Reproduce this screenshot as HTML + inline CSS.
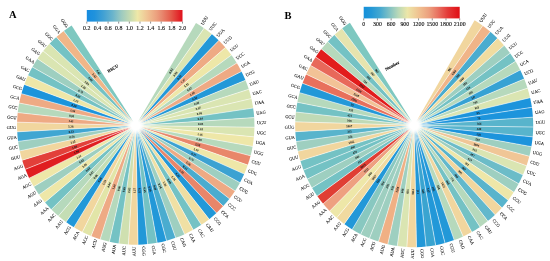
<!DOCTYPE html>
<html><head><meta charset="utf-8"><style>
html,body{margin:0;padding:0;background:#fff;width:550px;height:261px;overflow:hidden}
svg{display:block;will-change:transform}
</style></head><body>
<svg width="550" height="261" viewBox="0 0 550 261">
<defs><linearGradient id="cba" x1="0" x2="1" y1="0" y2="0">
<stop offset="0" stop-color="#168ce0"/>
<stop offset="0.08" stop-color="#2092dc"/>
<stop offset="0.17" stop-color="#40a0d4"/>
<stop offset="0.27" stop-color="#6ab4cc"/>
<stop offset="0.36" stop-color="#9ccac0"/>
<stop offset="0.46" stop-color="#c8dcb0"/>
<stop offset="0.53" stop-color="#eee8a8"/>
<stop offset="0.63" stop-color="#f0c494"/>
<stop offset="0.73" stop-color="#eca07e"/>
<stop offset="0.78" stop-color="#e88a70"/>
<stop offset="0.88" stop-color="#e45a4a"/>
<stop offset="1" stop-color="#e0101c"/>
</linearGradient>
<linearGradient id="cbb" x1="0" x2="1" y1="0" y2="0">
<stop offset="0" stop-color="#1590da"/>
<stop offset="0.08" stop-color="#2498d6"/>
<stop offset="0.17" stop-color="#44a8d0"/>
<stop offset="0.265" stop-color="#7ec0c4"/>
<stop offset="0.36" stop-color="#b8d8b8"/>
<stop offset="0.455" stop-color="#ece6a8"/>
<stop offset="0.58" stop-color="#f0c090"/>
<stop offset="0.68" stop-color="#eca07e"/>
<stop offset="0.775" stop-color="#e87060"/>
<stop offset="0.875" stop-color="#e43a38"/>
<stop offset="1" stop-color="#e00e14"/>
</linearGradient>
<radialGradient id="cg"><stop offset="0" stop-color="#fff"/><stop offset="0.45" stop-color="#fff"/><stop offset="1" stop-color="#fff" stop-opacity="0"/></radialGradient></defs>
<style>
.lb{font-family:"Liberation Serif",serif;font-size:4.4px;fill:#111;stroke:#111;stroke-width:0.08px}
.nm{font-family:"Liberation Serif",serif;font-size:2.95px;font-weight:bold;fill:#1a1a1a;stroke:#1a1a1a;stroke-width:0.04px;text-anchor:middle}
.cbl{font-family:"Liberation Serif",serif;font-size:5.9px;fill:#111;stroke:#111;stroke-width:0.12px}
.pl{font-family:"Liberation Serif",serif;font-size:10.5px;font-weight:bold;fill:#000}
.tt{font-family:"Liberation Serif",serif;font-size:4.4px;font-weight:bold;fill:#000;stroke:#000;stroke-width:0.1px}
</style>
<rect width="550" height="261" fill="#fff"/>
<path d="M135.75 125.60L195.99 22.98A118.7 119.1 0 0 1 204.07 28.20Z" fill="#b6d9bc"/>
<path d="M135.75 125.60L204.07 28.20A118.7 119.1 0 0 1 211.69 34.06Z" fill="#dae5b2"/>
<path d="M135.75 125.60L211.69 34.06A118.7 119.1 0 0 1 218.82 40.52Z" fill="#2298d8"/>
<path d="M135.75 125.60L218.82 40.52A118.7 119.1 0 0 1 225.40 47.54Z" fill="#eeaa84"/>
<path d="M135.75 125.60L225.40 47.54A118.7 119.1 0 0 1 231.40 55.07Z" fill="#eee7a8"/>
<path d="M135.75 125.60L231.40 55.07A118.7 119.1 0 0 1 236.77 63.06Z" fill="#b6d9bc"/>
<path d="M135.75 125.60L236.77 63.06A118.7 119.1 0 0 1 241.48 71.46Z" fill="#eeaa84"/>
<path d="M135.75 125.60L241.48 71.46A118.7 119.1 0 0 1 245.49 80.21Z" fill="#2298d8"/>
<path d="M135.75 125.60L245.49 80.21A118.7 119.1 0 0 1 248.79 89.27Z" fill="#b6d9bc"/>
<path d="M135.75 125.60L248.79 89.27A118.7 119.1 0 0 1 251.35 98.56Z" fill="#dae5b2"/>
<path d="M135.75 125.60L251.35 98.56A118.7 119.1 0 0 1 253.15 108.02Z" fill="#dae5b2"/>
<path d="M135.75 125.60L253.15 108.02A118.7 119.1 0 0 1 254.18 117.60Z" fill="#74c2c4"/>
<path d="M135.75 125.60L254.18 117.60A118.7 119.1 0 0 1 254.44 127.24Z" fill="#b6d9bc"/>
<path d="M135.75 125.60L254.44 127.24A118.7 119.1 0 0 1 253.92 136.86Z" fill="#dae5b2"/>
<path d="M135.75 125.60L253.92 136.86A118.7 119.1 0 0 1 252.62 146.41Z" fill="#eee7a8"/>
<path d="M135.75 125.60L252.62 146.41A118.7 119.1 0 0 1 250.56 155.82Z" fill="#b6d9bc"/>
<path d="M135.75 125.60L250.56 155.82A118.7 119.1 0 0 1 247.75 165.04Z" fill="#e8866a"/>
<path d="M135.75 125.60L247.75 165.04A118.7 119.1 0 0 1 244.21 173.99Z" fill="#eee7a8"/>
<path d="M135.75 125.60L244.21 173.99A118.7 119.1 0 0 1 239.95 182.64Z" fill="#3ca2d2"/>
<path d="M135.75 125.60L239.95 182.64A118.7 119.1 0 0 1 235.02 190.90Z" fill="#9ecfc0"/>
<path d="M135.75 125.60L235.02 190.90A118.7 119.1 0 0 1 229.43 198.74Z" fill="#eeaa84"/>
<path d="M135.75 125.60L229.43 198.74A118.7 119.1 0 0 1 223.23 206.10Z" fill="#4aaccf"/>
<path d="M135.75 125.60L223.23 206.10A118.7 119.1 0 0 1 216.46 212.93Z" fill="#e8866a"/>
<path d="M135.75 125.60L216.46 212.93A118.7 119.1 0 0 1 209.16 219.20Z" fill="#2298d8"/>
<path d="M135.75 125.60L209.16 219.20A118.7 119.1 0 0 1 201.37 224.84Z" fill="#f0dea2"/>
<path d="M135.75 125.60L201.37 224.84A118.7 119.1 0 0 1 193.16 229.84Z" fill="#74c2c4"/>
<path d="M135.75 125.60L193.16 229.84A118.7 119.1 0 0 1 184.57 234.16Z" fill="#f0e0a4"/>
<path d="M135.75 125.60L184.57 234.16A118.7 119.1 0 0 1 175.67 237.76Z" fill="#9ecfc0"/>
<path d="M135.75 125.60L175.67 237.76A118.7 119.1 0 0 1 166.50 240.64Z" fill="#4aaccf"/>
<path d="M135.75 125.60L166.50 240.64A118.7 119.1 0 0 1 157.13 242.75Z" fill="#2298d8"/>
<path d="M135.75 125.60L157.13 242.75A118.7 119.1 0 0 1 147.62 244.10Z" fill="#74c2c4"/>
<path d="M135.75 125.60L147.62 244.10A118.7 119.1 0 0 1 138.03 244.68Z" fill="#2298d8"/>
<path d="M135.75 125.60L138.03 244.68A118.7 119.1 0 0 1 128.43 244.47Z" fill="#f1d69e"/>
<path d="M135.75 125.60L128.43 244.47A118.7 119.1 0 0 1 118.87 243.49Z" fill="#cfe0b0"/>
<path d="M135.75 125.60L118.87 243.49A118.7 119.1 0 0 1 109.43 241.73Z" fill="#74c2c4"/>
<path d="M135.75 125.60L109.43 241.73A118.7 119.1 0 0 1 100.16 239.22Z" fill="#b6d9bc"/>
<path d="M135.75 125.60L100.16 239.22A118.7 119.1 0 0 1 91.12 235.96Z" fill="#eeaa84"/>
<path d="M135.75 125.60L91.12 235.96A118.7 119.1 0 0 1 82.37 231.98Z" fill="#e2e5a8"/>
<path d="M135.75 125.60L82.37 231.98A118.7 119.1 0 0 1 73.97 227.30Z" fill="#f1d69e"/>
<path d="M135.75 125.60L73.97 227.30A118.7 119.1 0 0 1 65.98 221.95Z" fill="#2298d8"/>
<path d="M135.75 125.60L65.98 221.95A118.7 119.1 0 0 1 58.44 215.98Z" fill="#c4deb4"/>
<path d="M135.75 125.60L58.44 215.98A118.7 119.1 0 0 1 51.41 209.41Z" fill="#b6d9bc"/>
<path d="M135.75 125.60L51.41 209.41A118.7 119.1 0 0 1 44.94 202.30Z" fill="#74c2c4"/>
<path d="M135.75 125.60L44.94 202.30A118.7 119.1 0 0 1 39.05 194.68Z" fill="#eee7a8"/>
<path d="M135.75 125.60L39.05 194.68A118.7 119.1 0 0 1 33.80 186.61Z" fill="#9ecfc0"/>
<path d="M135.75 125.60L33.80 186.61A118.7 119.1 0 0 1 29.22 178.14Z" fill="#eee7a8"/>
<path d="M135.75 125.60L29.22 178.14A118.7 119.1 0 0 1 25.34 169.32Z" fill="#e01e20"/>
<path d="M135.75 125.60L25.34 169.32A118.7 119.1 0 0 1 22.18 160.22Z" fill="#e2403a"/>
<path d="M135.75 125.60L22.18 160.22A118.7 119.1 0 0 1 19.76 150.90Z" fill="#f1d69e"/>
<path d="M135.75 125.60L19.76 150.90A118.7 119.1 0 0 1 18.10 141.40Z" fill="#9ecfc0"/>
<path d="M135.75 125.60L18.10 141.40A118.7 119.1 0 0 1 17.21 131.81Z" fill="#40a6d2"/>
<path d="M135.75 125.60L17.21 131.81A118.7 119.1 0 0 1 17.10 122.17Z" fill="#f1d69e"/>
<path d="M135.75 125.60L17.10 122.17A118.7 119.1 0 0 1 17.76 112.56Z" fill="#eeaa84"/>
<path d="M135.75 125.60L17.76 112.56A118.7 119.1 0 0 1 19.20 103.03Z" fill="#b6d9bc"/>
<path d="M135.75 125.60L19.20 103.03A118.7 119.1 0 0 1 21.40 93.65Z" fill="#eeaa84"/>
<path d="M135.75 125.60L21.40 93.65A118.7 119.1 0 0 1 24.35 84.47Z" fill="#1c94dc"/>
<path d="M135.75 125.60L24.35 84.47A118.7 119.1 0 0 1 28.03 75.57Z" fill="#eee7a8"/>
<path d="M135.75 125.60L28.03 75.57A118.7 119.1 0 0 1 32.41 67.00Z" fill="#74c2c4"/>
<path d="M135.75 125.60L32.41 67.00A118.7 119.1 0 0 1 37.47 58.81Z" fill="#9ecfc0"/>
<path d="M135.75 125.60L37.47 58.81A118.7 119.1 0 0 1 43.18 51.05Z" fill="#dae5b2"/>
<path d="M135.75 125.60L43.18 51.05A118.7 119.1 0 0 1 49.49 43.79Z" fill="#dae5b2"/>
<path d="M135.75 125.60L49.49 43.79A118.7 119.1 0 0 1 56.36 37.06Z" fill="#74c2c4"/>
<path d="M135.75 125.60L56.36 37.06A118.7 119.1 0 0 1 63.76 30.91Z" fill="#f0b688"/>
<path d="M135.75 125.60L63.76 30.91A118.7 119.1 0 0 1 71.62 25.38Z" fill="#7ec8c0"/>
<path d="M135.75 125.60L204.35 27.79M135.75 125.60L212.01 33.68M135.75 125.60L219.17 40.17M135.75 125.60L225.78 47.21M135.75 125.60L231.80 54.77M135.75 125.60L237.19 62.80M135.75 125.60L241.92 71.23M135.75 125.60L245.96 80.02M135.75 125.60L249.27 89.11M135.75 125.60L251.84 98.44M135.75 125.60L253.64 107.95M135.75 125.60L254.68 117.57M135.75 125.60L254.94 127.24M135.75 125.60L254.42 136.91M135.75 125.60L253.12 146.50M135.75 125.60L251.05 155.95M135.75 125.60L248.23 165.20M135.75 125.60L244.67 174.20M135.75 125.60L240.39 182.87M135.75 125.60L235.44 191.18M135.75 125.60L229.82 199.05M135.75 125.60L223.60 206.44M135.75 125.60L216.80 213.30M135.75 125.60L209.46 219.59M135.75 125.60L201.65 225.26M135.75 125.60L193.40 230.28M135.75 125.60L184.78 234.61M135.75 125.60L175.83 238.24M135.75 125.60L166.63 241.12M135.75 125.60L157.22 243.24M135.75 125.60L147.67 244.60M135.75 125.60L138.04 245.18M135.75 125.60L128.40 244.97M135.75 125.60L118.80 243.98M135.75 125.60L109.32 242.22M135.75 125.60L100.01 239.70M135.75 125.60L90.93 236.42M135.75 125.60L82.14 232.42M135.75 125.60L73.71 227.73M135.75 125.60L65.69 222.36M135.75 125.60L58.12 216.36M135.75 125.60L51.06 209.76M135.75 125.60L44.55 202.62M135.75 125.60L38.65 194.97M135.75 125.60L33.38 186.86M135.75 125.60L28.77 178.36M135.75 125.60L24.87 169.51M135.75 125.60L21.70 160.37M135.75 125.60L19.27 151.00M135.75 125.60L17.60 141.47M135.75 125.60L16.71 131.83M135.75 125.60L16.60 122.16M135.75 125.60L17.27 112.50M135.75 125.60L18.71 102.93M135.75 125.60L20.92 93.51M135.75 125.60L23.88 84.30M135.75 125.60L27.58 75.36M135.75 125.60L31.98 66.75M135.75 125.60L37.06 58.53M135.75 125.60L42.79 50.74M135.75 125.60L49.12 43.44M135.75 125.60L56.03 36.68M135.75 125.60L63.45 30.51" stroke="#fff" stroke-width="0.55" fill="none"/>
<circle cx="135.75" cy="125.6" r="9" fill="url(#cg)"/>
<text x="201.80" y="24.38" transform="rotate(-57.18 201.80 24.38)" class="lb" dy="1.6">UUU</text>
<text x="209.77" y="30.01" transform="rotate(-52.54 209.77 30.01)" class="lb" dy="1.6">UUC</text>
<text x="217.26" y="36.26" transform="rotate(-47.91 217.26 36.26)" class="lb" dy="1.6">UUA</text>
<text x="224.22" y="43.10" transform="rotate(-43.27 224.22 43.10)" class="lb" dy="1.6">UUG</text>
<text x="230.60" y="50.48" transform="rotate(-38.63 230.60 50.48)" class="lb" dy="1.6">UCU</text>
<text x="236.37" y="58.36" transform="rotate(-33.99 236.37 58.36)" class="lb" dy="1.6">UCC</text>
<text x="241.49" y="66.68" transform="rotate(-29.36 241.49 66.68)" class="lb" dy="1.6">UCA</text>
<text x="245.92" y="75.39" transform="rotate(-24.72 245.92 75.39)" class="lb" dy="1.6">UCG</text>
<text x="249.63" y="84.42" transform="rotate(-20.08 249.63 84.42)" class="lb" dy="1.6">UAU</text>
<text x="252.60" y="93.73" transform="rotate(-15.44 252.60 93.73)" class="lb" dy="1.6">UAC</text>
<text x="254.81" y="103.25" transform="rotate(-10.81 254.81 103.25)" class="lb" dy="1.6">UAA</text>
<text x="256.25" y="112.92" transform="rotate(-6.17 256.25 112.92)" class="lb" dy="1.6">UAG</text>
<text x="256.91" y="122.67" transform="rotate(-1.53 256.91 122.67)" class="lb" dy="1.6">UGU</text>
<text x="256.77" y="132.45" transform="rotate(3.11 256.77 132.45)" class="lb" dy="1.6">UGC</text>
<text x="255.85" y="142.18" transform="rotate(7.74 255.85 142.18)" class="lb" dy="1.6">UGA</text>
<text x="254.15" y="151.80" transform="rotate(12.38 254.15 151.80)" class="lb" dy="1.6">UGG</text>
<text x="251.68" y="161.26" transform="rotate(17.02 251.68 161.26)" class="lb" dy="1.6">CUU</text>
<text x="248.45" y="170.48" transform="rotate(21.66 248.45 170.48)" class="lb" dy="1.6">CUC</text>
<text x="244.49" y="179.41" transform="rotate(26.29 244.49 179.41)" class="lb" dy="1.6">CUA</text>
<text x="239.83" y="187.99" transform="rotate(30.93 239.83 187.99)" class="lb" dy="1.6">CUG</text>
<text x="234.49" y="196.17" transform="rotate(35.57 234.49 196.17)" class="lb" dy="1.6">CCU</text>
<text x="228.50" y="203.88" transform="rotate(40.21 228.50 203.88)" class="lb" dy="1.6">CCC</text>
<text x="221.92" y="211.09" transform="rotate(44.84 221.92 211.09)" class="lb" dy="1.6">CCA</text>
<text x="214.77" y="217.73" transform="rotate(49.48 214.77 217.73)" class="lb" dy="1.6">CCG</text>
<text x="207.12" y="223.78" transform="rotate(54.12 207.12 223.78)" class="lb" dy="1.6">CAU</text>
<text x="199.00" y="229.18" transform="rotate(58.76 199.00 229.18)" class="lb" dy="1.6">CAC</text>
<text x="190.47" y="233.91" transform="rotate(63.39 190.47 233.91)" class="lb" dy="1.6">CAA</text>
<text x="181.59" y="237.93" transform="rotate(68.03 181.59 237.93)" class="lb" dy="1.6">CAG</text>
<text x="172.42" y="241.22" transform="rotate(72.67 172.42 241.22)" class="lb" dy="1.6">CGU</text>
<text x="163.01" y="243.75" transform="rotate(77.31 163.01 243.75)" class="lb" dy="1.6">CGC</text>
<text x="153.42" y="245.51" transform="rotate(81.94 153.42 245.51)" class="lb" dy="1.6">CGA</text>
<text x="143.73" y="246.49" transform="rotate(86.58 143.73 246.49)" class="lb" dy="1.6">CGG</text>
<text x="133.99" y="246.67" transform="rotate(-88.78 133.99 246.67)" class="lb" text-anchor="end" dy="1.6">AUU</text>
<text x="124.27" y="246.07" transform="rotate(-84.14 124.27 246.07)" class="lb" text-anchor="end" dy="1.6">AUC</text>
<text x="114.62" y="244.68" transform="rotate(-79.51 114.62 244.68)" class="lb" text-anchor="end" dy="1.6">AUA</text>
<text x="105.12" y="242.51" transform="rotate(-74.87 105.12 242.51)" class="lb" text-anchor="end" dy="1.6">AUG</text>
<text x="95.83" y="239.58" transform="rotate(-70.23 95.83 239.58)" class="lb" text-anchor="end" dy="1.6">ACU</text>
<text x="86.80" y="235.91" transform="rotate(-65.59 86.80 235.91)" class="lb" text-anchor="end" dy="1.6">ACC</text>
<text x="78.10" y="231.51" transform="rotate(-60.96 78.10 231.51)" class="lb" text-anchor="end" dy="1.6">ACA</text>
<text x="69.78" y="226.42" transform="rotate(-56.32 69.78 226.42)" class="lb" text-anchor="end" dy="1.6">ACG</text>
<text x="61.90" y="220.68" transform="rotate(-51.68 61.90 220.68)" class="lb" text-anchor="end" dy="1.6">AAU</text>
<text x="54.50" y="214.31" transform="rotate(-47.04 54.50 214.31)" class="lb" text-anchor="end" dy="1.6">AAC</text>
<text x="47.65" y="207.37" transform="rotate(-42.41 47.65 207.37)" class="lb" text-anchor="end" dy="1.6">AAA</text>
<text x="41.38" y="199.89" transform="rotate(-37.77 41.38 199.89)" class="lb" text-anchor="end" dy="1.6">AAG</text>
<text x="35.72" y="191.92" transform="rotate(-33.13 35.72 191.92)" class="lb" text-anchor="end" dy="1.6">AGU</text>
<text x="30.73" y="183.53" transform="rotate(-28.49 30.73 183.53)" class="lb" text-anchor="end" dy="1.6">AGC</text>
<text x="26.44" y="174.76" transform="rotate(-23.86 26.44 174.76)" class="lb" text-anchor="end" dy="1.6">AGA</text>
<text x="22.86" y="165.66" transform="rotate(-19.22 22.86 165.66)" class="lb" text-anchor="end" dy="1.6">AGG</text>
<text x="20.03" y="156.31" transform="rotate(-14.58 20.03 156.31)" class="lb" text-anchor="end" dy="1.6">GUU</text>
<text x="17.96" y="146.76" transform="rotate(-9.94 17.96 146.76)" class="lb" text-anchor="end" dy="1.6">GUC</text>
<text x="16.67" y="137.07" transform="rotate(-5.31 16.67 137.07)" class="lb" text-anchor="end" dy="1.6">GUA</text>
<text x="16.16" y="127.31" transform="rotate(-0.67 16.16 127.31)" class="lb" text-anchor="end" dy="1.6">GUG</text>
<text x="16.44" y="117.54" transform="rotate(3.97 16.44 117.54)" class="lb" text-anchor="end" dy="1.6">GCU</text>
<text x="17.51" y="107.82" transform="rotate(8.61 17.51 107.82)" class="lb" text-anchor="end" dy="1.6">GCC</text>
<text x="19.35" y="98.23" transform="rotate(13.24 19.35 98.23)" class="lb" text-anchor="end" dy="1.6">GCA</text>
<text x="21.97" y="88.81" transform="rotate(17.88 21.97 88.81)" class="lb" text-anchor="end" dy="1.6">GCG</text>
<text x="25.33" y="79.64" transform="rotate(22.52 25.33 79.64)" class="lb" text-anchor="end" dy="1.6">GAU</text>
<text x="29.42" y="70.76" transform="rotate(27.16 29.42 70.76)" class="lb" text-anchor="end" dy="1.6">GAC</text>
<text x="34.22" y="62.25" transform="rotate(31.79 34.22 62.25)" class="lb" text-anchor="end" dy="1.6">GAA</text>
<text x="39.68" y="54.16" transform="rotate(36.43 39.68 54.16)" class="lb" text-anchor="end" dy="1.6">GAG</text>
<text x="45.78" y="46.54" transform="rotate(41.07 45.78 46.54)" class="lb" text-anchor="end" dy="1.6">GGU</text>
<text x="52.47" y="39.44" transform="rotate(45.71 52.47 39.44)" class="lb" text-anchor="end" dy="1.6">GGC</text>
<text x="59.71" y="32.90" transform="rotate(50.34 59.71 32.90)" class="lb" text-anchor="end" dy="1.6">GGA</text>
<text x="67.46" y="26.97" transform="rotate(54.98 67.46 26.97)" class="lb" text-anchor="end" dy="1.6">GGG</text>
<text x="170.89" y="70.93" transform="rotate(-57.18 170.89 70.93)" class="nm" dy="1.1">0.82</text>
<text x="175.18" y="73.96" transform="rotate(-52.54 175.18 73.96)" class="nm" dy="1.1">0.98</text>
<text x="179.21" y="77.33" transform="rotate(-47.91 179.21 77.33)" class="nm" dy="1.1">0.29</text>
<text x="182.96" y="81.01" transform="rotate(-43.27 182.96 81.01)" class="nm" dy="1.1">1.37</text>
<text x="186.40" y="84.99" transform="rotate(-38.63 186.40 84.99)" class="nm" dy="1.1">1.15</text>
<text x="189.51" y="89.23" transform="rotate(-33.99 189.51 89.23)" class="nm" dy="1.1">0.87</text>
<text x="192.26" y="93.71" transform="rotate(-29.36 192.26 93.71)" class="nm" dy="1.1">1.40</text>
<text x="194.65" y="98.40" transform="rotate(-24.72 194.65 98.40)" class="nm" dy="1.1">0.34</text>
<text x="196.64" y="103.26" transform="rotate(-20.08 196.64 103.26)" class="nm" dy="1.1">0.90</text>
<text x="198.25" y="108.28" transform="rotate(-15.44 198.25 108.28)" class="nm" dy="1.1">0.97</text>
<text x="199.44" y="113.40" transform="rotate(-10.81 199.44 113.40)" class="nm" dy="1.1">0.98</text>
<text x="200.21" y="118.61" transform="rotate(-6.17 200.21 118.61)" class="nm" dy="1.1">0.64</text>
<text x="200.56" y="123.86" transform="rotate(-1.53 200.56 123.86)" class="nm" dy="1.1">0.85</text>
<text x="200.49" y="129.13" transform="rotate(3.11 200.49 129.13)" class="nm" dy="1.1">1.01</text>
<text x="199.99" y="134.37" transform="rotate(7.74 199.99 134.37)" class="nm" dy="1.1">1.16</text>
<text x="199.08" y="139.55" transform="rotate(12.38 199.08 139.55)" class="nm" dy="1.1">0.88</text>
<text x="197.75" y="144.64" transform="rotate(17.02 197.75 144.64)" class="nm" dy="1.1">1.58</text>
<text x="196.01" y="149.61" transform="rotate(21.66 196.01 149.61)" class="nm" dy="1.1">1.19</text>
<text x="193.88" y="154.42" transform="rotate(26.29 193.88 154.42)" class="nm" dy="1.1">0.27</text>
<text x="191.37" y="159.04" transform="rotate(30.93 191.37 159.04)" class="nm" dy="1.1">0.75</text>
<text x="188.49" y="163.44" transform="rotate(35.57 188.49 163.44)" class="nm" dy="1.1">1.36</text>
<text x="185.27" y="167.60" transform="rotate(40.21 185.27 167.60)" class="nm" dy="1.1">0.51</text>
<text x="181.72" y="171.47" transform="rotate(44.84 181.72 171.47)" class="nm" dy="1.1">1.55</text>
<text x="177.87" y="175.05" transform="rotate(49.48 177.87 175.05)" class="nm" dy="1.1">0.32</text>
<text x="173.75" y="178.31" transform="rotate(54.12 173.75 178.31)" class="nm" dy="1.1">1.28</text>
<text x="169.38" y="181.22" transform="rotate(58.76 169.38 181.22)" class="nm" dy="1.1">0.69</text>
<text x="164.79" y="183.77" transform="rotate(63.39 164.79 183.77)" class="nm" dy="1.1">1.30</text>
<text x="160.01" y="185.93" transform="rotate(68.03 160.01 185.93)" class="nm" dy="1.1">0.74</text>
<text x="155.06" y="187.70" transform="rotate(72.67 155.06 187.70)" class="nm" dy="1.1">0.49</text>
<text x="150.00" y="189.06" transform="rotate(77.31 150.00 189.06)" class="nm" dy="1.1">0.29</text>
<text x="144.84" y="190.01" transform="rotate(81.94 144.84 190.01)" class="nm" dy="1.1">0.65</text>
<text x="139.62" y="190.54" transform="rotate(86.58 139.62 190.54)" class="nm" dy="1.1">0.31</text>
<text x="134.37" y="190.64" transform="rotate(-88.78 134.37 190.64)" class="nm" dy="1.1">1.27</text>
<text x="129.13" y="190.32" transform="rotate(-84.14 129.13 190.32)" class="nm" dy="1.1">1.03</text>
<text x="123.94" y="189.57" transform="rotate(-79.51 123.94 189.57)" class="nm" dy="1.1">0.69</text>
<text x="118.83" y="188.40" transform="rotate(-74.87 118.83 188.40)" class="nm" dy="1.1">0.90</text>
<text x="113.82" y="186.82" transform="rotate(-70.23 113.82 186.82)" class="nm" dy="1.1">1.34</text>
<text x="108.96" y="184.84" transform="rotate(-65.59 108.96 184.84)" class="nm" dy="1.1">0.98</text>
<text x="104.27" y="182.47" transform="rotate(-60.96 104.27 182.47)" class="nm" dy="1.1">1.24</text>
<text x="99.79" y="179.73" transform="rotate(-56.32 99.79 179.73)" class="nm" dy="1.1">0.30</text>
<text x="95.55" y="176.64" transform="rotate(-51.68 95.55 176.64)" class="nm" dy="1.1">0.86</text>
<text x="91.57" y="173.21" transform="rotate(-47.04 91.57 173.21)" class="nm" dy="1.1">0.87</text>
<text x="87.88" y="169.47" transform="rotate(-42.41 87.88 169.47)" class="nm" dy="1.1">0.68</text>
<text x="84.50" y="165.44" transform="rotate(-37.77 84.50 165.44)" class="nm" dy="1.1">1.18</text>
<text x="81.45" y="161.16" transform="rotate(-33.13 81.45 161.16)" class="nm" dy="1.1">0.82</text>
<text x="78.77" y="156.64" transform="rotate(-28.49 78.77 156.64)" class="nm" dy="1.1">1.11</text>
<text x="76.45" y="151.91" transform="rotate(-23.86 76.45 151.91)" class="nm" dy="1.1">1.90</text>
<text x="74.53" y="147.01" transform="rotate(-19.22 74.53 147.01)" class="nm" dy="1.1">1.80</text>
<text x="73.00" y="141.98" transform="rotate(-14.58 73.00 141.98)" class="nm" dy="1.1">1.25</text>
<text x="71.89" y="136.83" transform="rotate(-9.94 71.89 136.83)" class="nm" dy="1.1">0.78</text>
<text x="71.19" y="131.62" transform="rotate(-5.31 71.19 131.62)" class="nm" dy="1.1">0.53</text>
<text x="70.92" y="126.36" transform="rotate(-0.67 70.92 126.36)" class="nm" dy="1.1">1.28</text>
<text x="71.07" y="121.10" transform="rotate(3.97 71.07 121.10)" class="nm" dy="1.1">1.41</text>
<text x="71.64" y="115.87" transform="rotate(8.61 71.64 115.87)" class="nm" dy="1.1">0.90</text>
<text x="72.64" y="110.70" transform="rotate(13.24 72.64 110.70)" class="nm" dy="1.1">1.34</text>
<text x="74.05" y="105.63" transform="rotate(17.88 74.05 105.63)" class="nm" dy="1.1">0.28</text>
<text x="75.86" y="100.69" transform="rotate(22.52 75.86 100.69)" class="nm" dy="1.1">1.13</text>
<text x="78.06" y="95.91" transform="rotate(27.16 78.06 95.91)" class="nm" dy="1.1">0.65</text>
<text x="80.64" y="91.33" transform="rotate(31.79 80.64 91.33)" class="nm" dy="1.1">0.78</text>
<text x="83.58" y="86.97" transform="rotate(36.43 83.58 86.97)" class="nm" dy="1.1">1.02</text>
<text x="86.87" y="82.86" transform="rotate(41.07 86.87 82.86)" class="nm" dy="1.1">1.03</text>
<text x="90.47" y="79.04" transform="rotate(45.71 90.47 79.04)" class="nm" dy="1.1">0.69</text>
<text x="94.37" y="75.52" transform="rotate(50.34 94.37 75.52)" class="nm" dy="1.1">1.42</text>
<text x="98.54" y="72.32" transform="rotate(54.98 98.54 72.32)" class="nm" dy="1.1">0.62</text>
<path d="M414.20 125.35L474.60 20.36A119.0 121.85 0 0 1 482.69 25.70Z" fill="#f1d69e"/>
<path d="M414.20 125.35L482.69 25.70A119.0 121.85 0 0 1 490.33 31.70Z" fill="#f0b488"/>
<path d="M414.20 125.35L490.33 31.70A119.0 121.85 0 0 1 497.48 38.31Z" fill="#4aaccf"/>
<path d="M414.20 125.35L497.48 38.31A119.0 121.85 0 0 1 504.08 45.49Z" fill="#f0dca0"/>
<path d="M414.20 125.35L504.08 45.49A119.0 121.85 0 0 1 510.09 53.19Z" fill="#9ecfc0"/>
<path d="M414.20 125.35L510.09 53.19A119.0 121.85 0 0 1 515.47 61.37Z" fill="#74c2c4"/>
<path d="M414.20 125.35L515.47 61.37A119.0 121.85 0 0 1 520.19 69.96Z" fill="#b6d9bc"/>
<path d="M414.20 125.35L520.19 69.96A119.0 121.85 0 0 1 524.22 78.92Z" fill="#36a2d4"/>
<path d="M414.20 125.35L524.22 78.92A119.0 121.85 0 0 1 527.53 88.18Z" fill="#b6d9bc"/>
<path d="M414.20 125.35L527.53 88.18A119.0 121.85 0 0 1 530.09 97.68Z" fill="#dae5b2"/>
<path d="M414.20 125.35L530.09 97.68A119.0 121.85 0 0 1 531.90 107.37Z" fill="#1c94dc"/>
<path d="M414.20 125.35L531.90 107.37A119.0 121.85 0 0 1 532.93 117.17Z" fill="#1c94dc"/>
<path d="M414.20 125.35L532.93 117.17A119.0 121.85 0 0 1 533.19 127.02Z" fill="#58b4cc"/>
<path d="M414.20 125.35L533.19 127.02A119.0 121.85 0 0 1 532.67 136.87Z" fill="#58b4cc"/>
<path d="M414.20 125.35L532.67 136.87A119.0 121.85 0 0 1 531.37 146.64Z" fill="#1c94dc"/>
<path d="M414.20 125.35L531.37 146.64A119.0 121.85 0 0 1 529.30 156.27Z" fill="#9ecfc0"/>
<path d="M414.20 125.35L529.30 156.27A119.0 121.85 0 0 1 526.49 165.70Z" fill="#f0c696"/>
<path d="M414.20 125.35L526.49 165.70A119.0 121.85 0 0 1 522.93 174.86Z" fill="#dae5b2"/>
<path d="M414.20 125.35L522.93 174.86A119.0 121.85 0 0 1 518.67 183.70Z" fill="#6cbcc8"/>
<path d="M414.20 125.35L518.67 183.70A119.0 121.85 0 0 1 513.72 192.16Z" fill="#9ecfc0"/>
<path d="M414.20 125.35L513.72 192.16A119.0 121.85 0 0 1 508.12 200.18Z" fill="#eee7a8"/>
<path d="M414.20 125.35L508.12 200.18A119.0 121.85 0 0 1 501.90 207.71Z" fill="#58b4cc"/>
<path d="M414.20 125.35L501.90 207.71A119.0 121.85 0 0 1 495.11 214.70Z" fill="#f1d69e"/>
<path d="M414.20 125.35L495.11 214.70A119.0 121.85 0 0 1 487.79 221.11Z" fill="#62b8cc"/>
<path d="M414.20 125.35L487.79 221.11A119.0 121.85 0 0 1 479.99 226.89Z" fill="#b6d9bc"/>
<path d="M414.20 125.35L479.99 226.89A119.0 121.85 0 0 1 471.76 232.00Z" fill="#74c2c4"/>
<path d="M414.20 125.35L471.76 232.00A119.0 121.85 0 0 1 463.15 236.42Z" fill="#f1d69e"/>
<path d="M414.20 125.35L463.15 236.42A119.0 121.85 0 0 1 454.22 240.10Z" fill="#b6d9bc"/>
<path d="M414.20 125.35L454.22 240.10A119.0 121.85 0 0 1 445.02 243.04Z" fill="#2298d8"/>
<path d="M414.20 125.35L445.02 243.04A119.0 121.85 0 0 1 435.63 245.21Z" fill="#2298d8"/>
<path d="M414.20 125.35L435.63 245.21A119.0 121.85 0 0 1 426.10 246.59Z" fill="#3aa4d0"/>
<path d="M414.20 125.35L426.10 246.59A119.0 121.85 0 0 1 416.48 247.18Z" fill="#2298d8"/>
<path d="M414.20 125.35L416.48 247.18A119.0 121.85 0 0 1 406.86 246.97Z" fill="#f1d69e"/>
<path d="M414.20 125.35L406.86 246.97A119.0 121.85 0 0 1 397.28 245.96Z" fill="#dae5b2"/>
<path d="M414.20 125.35L397.28 245.96A119.0 121.85 0 0 1 387.81 244.17Z" fill="#9ecfc0"/>
<path d="M414.20 125.35L387.81 244.17A119.0 121.85 0 0 1 378.52 241.59Z" fill="#f0b084"/>
<path d="M414.20 125.35L378.52 241.59A119.0 121.85 0 0 1 369.45 238.26Z" fill="#9ecfc0"/>
<path d="M414.20 125.35L369.45 238.26A119.0 121.85 0 0 1 360.68 234.18Z" fill="#9ecfc0"/>
<path d="M414.20 125.35L360.68 234.18A119.0 121.85 0 0 1 352.27 229.40Z" fill="#88c8c0"/>
<path d="M414.20 125.35L352.27 229.40A119.0 121.85 0 0 1 344.25 223.93Z" fill="#2298d8"/>
<path d="M414.20 125.35L344.25 223.93A119.0 121.85 0 0 1 336.70 217.82Z" fill="#f0daa0"/>
<path d="M414.20 125.35L336.70 217.82A119.0 121.85 0 0 1 329.65 211.10Z" fill="#eee7a8"/>
<path d="M414.20 125.35L329.65 211.10A119.0 121.85 0 0 1 323.16 203.82Z" fill="#eea080"/>
<path d="M414.20 125.35L323.16 203.82A119.0 121.85 0 0 1 317.26 196.02Z" fill="#e03e34"/>
<path d="M414.20 125.35L317.26 196.02A119.0 121.85 0 0 1 312.00 187.77Z" fill="#74c2c4"/>
<path d="M414.20 125.35L312.00 187.77A119.0 121.85 0 0 1 307.40 179.10Z" fill="#9ecfc0"/>
<path d="M414.20 125.35L307.40 179.10A119.0 121.85 0 0 1 303.51 170.08Z" fill="#74c2c4"/>
<path d="M414.20 125.35L303.51 170.08A119.0 121.85 0 0 1 300.34 160.77Z" fill="#74c2c4"/>
<path d="M414.20 125.35L300.34 160.77A119.0 121.85 0 0 1 297.92 151.23Z" fill="#f1d69e"/>
<path d="M414.20 125.35L297.92 151.23A119.0 121.85 0 0 1 296.25 141.52Z" fill="#9ecfc0"/>
<path d="M414.20 125.35L296.25 141.52A119.0 121.85 0 0 1 295.36 131.70Z" fill="#58b4cc"/>
<path d="M414.20 125.35L295.36 131.70A119.0 121.85 0 0 1 295.25 121.84Z" fill="#f1d69e"/>
<path d="M414.20 125.35L295.25 121.84A119.0 121.85 0 0 1 295.92 112.01Z" fill="#c0dab6"/>
<path d="M414.20 125.35L295.92 112.01A119.0 121.85 0 0 1 297.36 102.26Z" fill="#74c2c4"/>
<path d="M414.20 125.35L297.36 102.26A119.0 121.85 0 0 1 299.56 92.66Z" fill="#b6d9bc"/>
<path d="M414.20 125.35L299.56 92.66A119.0 121.85 0 0 1 302.52 83.28Z" fill="#2298d8"/>
<path d="M414.20 125.35L302.52 83.28A119.0 121.85 0 0 1 306.21 74.17Z" fill="#e8705c"/>
<path d="M414.20 125.35L306.21 74.17A119.0 121.85 0 0 1 310.60 65.39Z" fill="#f2c296"/>
<path d="M414.20 125.35L310.60 65.39A119.0 121.85 0 0 1 315.68 57.01Z" fill="#e8685a"/>
<path d="M414.20 125.35L315.68 57.01A119.0 121.85 0 0 1 321.39 49.08Z" fill="#e21c1c"/>
<path d="M414.20 125.35L321.39 49.08A119.0 121.85 0 0 1 327.72 41.65Z" fill="#b6d9bc"/>
<path d="M414.20 125.35L327.72 41.65A119.0 121.85 0 0 1 334.61 34.76Z" fill="#74c2c4"/>
<path d="M414.20 125.35L334.61 34.76A119.0 121.85 0 0 1 342.03 28.47Z" fill="#e6e4ae"/>
<path d="M414.20 125.35L342.03 28.47A119.0 121.85 0 0 1 349.91 22.81Z" fill="#7ec8c0"/>
<path d="M414.20 125.35L482.98 25.30M414.20 125.35L490.65 31.32M414.20 125.35L497.83 37.95M414.20 125.35L504.46 45.16M414.20 125.35L510.49 52.90M414.20 125.35L515.90 61.10M414.20 125.35L520.64 69.73M414.20 125.35L524.68 78.73M414.20 125.35L528.00 88.02M414.20 125.35L530.58 97.57M414.20 125.35L532.39 107.29M414.20 125.35L533.43 117.13M414.20 125.35L533.69 127.03M414.20 125.35L533.16 136.92M414.20 125.35L531.86 146.73M414.20 125.35L529.79 156.40M414.20 125.35L526.96 165.86M414.20 125.35L523.39 175.07M414.20 125.35L519.11 183.94M414.20 125.35L514.14 192.43M414.20 125.35L508.51 200.49M414.20 125.35L502.27 208.05M414.20 125.35L495.45 215.07M414.20 125.35L488.10 221.50M414.20 125.35L480.27 227.30M414.20 125.35L472.00 232.44M414.20 125.35L463.35 236.87M414.20 125.35L454.38 240.57M414.20 125.35L445.15 243.52M414.20 125.35L435.72 245.70M414.20 125.35L426.15 247.09M414.20 125.35L416.49 247.68M414.20 125.35L406.83 247.47M414.20 125.35L397.21 246.46M414.20 125.35L387.70 244.65M414.20 125.35L378.37 242.07M414.20 125.35L369.27 238.72M414.20 125.35L360.46 234.63M414.20 125.35L352.01 229.82M414.20 125.35L343.96 224.33M414.20 125.35L336.37 218.19M414.20 125.35L329.30 211.45M414.20 125.35L322.78 204.14M414.20 125.35L316.85 196.31M414.20 125.35L311.57 188.02M414.20 125.35L306.95 179.32M414.20 125.35L303.04 170.27M414.20 125.35L299.86 160.92M414.20 125.35L297.43 151.34M414.20 125.35L295.76 141.58M414.20 125.35L294.86 131.73M414.20 125.35L294.75 121.83M414.20 125.35L295.42 111.95M414.20 125.35L296.87 102.16M414.20 125.35L299.08 92.52M414.20 125.35L302.05 83.10M414.20 125.35L305.75 73.96M414.20 125.35L310.17 65.15M414.20 125.35L315.26 56.73M414.20 125.35L321.00 48.77M414.20 125.35L327.36 41.30M414.20 125.35L334.28 34.39M414.20 125.35L341.72 28.07" stroke="#fff" stroke-width="0.55" fill="none"/>
<circle cx="414.2" cy="125.35" r="9" fill="url(#cg)"/>
<text x="480.42" y="21.82" transform="rotate(-57.18 480.42 21.82)" class="lb" dy="1.6">UUU</text>
<text x="488.40" y="27.57" transform="rotate(-52.54 488.40 27.57)" class="lb" dy="1.6">UUC</text>
<text x="495.91" y="33.97" transform="rotate(-47.91 495.91 33.97)" class="lb" dy="1.6">UUA</text>
<text x="502.89" y="40.97" transform="rotate(-43.27 502.89 40.97)" class="lb" dy="1.6">UUG</text>
<text x="509.29" y="48.52" transform="rotate(-38.63 509.29 48.52)" class="lb" dy="1.6">UCU</text>
<text x="515.07" y="56.57" transform="rotate(-33.99 515.07 56.57)" class="lb" dy="1.6">UCC</text>
<text x="520.20" y="65.08" transform="rotate(-29.36 520.20 65.08)" class="lb" dy="1.6">UCA</text>
<text x="524.64" y="73.99" transform="rotate(-24.72 524.64 73.99)" class="lb" dy="1.6">UCG</text>
<text x="528.36" y="83.23" transform="rotate(-20.08 528.36 83.23)" class="lb" dy="1.6">UAU</text>
<text x="531.34" y="92.75" transform="rotate(-15.44 531.34 92.75)" class="lb" dy="1.6">UAC</text>
<text x="533.56" y="102.49" transform="rotate(-10.81 533.56 102.49)" class="lb" dy="1.6">UAA</text>
<text x="535.00" y="112.37" transform="rotate(-6.17 535.00 112.37)" class="lb" dy="1.6">UAG</text>
<text x="535.66" y="122.35" transform="rotate(-1.53 535.66 122.35)" class="lb" dy="1.6">UGU</text>
<text x="535.52" y="132.34" transform="rotate(3.11 535.52 132.34)" class="lb" dy="1.6">UGC</text>
<text x="534.60" y="142.30" transform="rotate(7.74 534.60 142.30)" class="lb" dy="1.6">UGA</text>
<text x="532.89" y="152.14" transform="rotate(12.38 532.89 152.14)" class="lb" dy="1.6">UGG</text>
<text x="530.41" y="161.81" transform="rotate(17.02 530.41 161.81)" class="lb" dy="1.6">CUU</text>
<text x="527.18" y="171.24" transform="rotate(21.66 527.18 171.24)" class="lb" dy="1.6">CUC</text>
<text x="523.21" y="180.38" transform="rotate(26.29 523.21 180.38)" class="lb" dy="1.6">CUA</text>
<text x="518.53" y="189.16" transform="rotate(30.93 518.53 189.16)" class="lb" dy="1.6">CUG</text>
<text x="513.18" y="197.52" transform="rotate(35.57 513.18 197.52)" class="lb" dy="1.6">CCU</text>
<text x="507.18" y="205.41" transform="rotate(40.21 507.18 205.41)" class="lb" dy="1.6">CCC</text>
<text x="500.58" y="212.77" transform="rotate(44.84 500.58 212.77)" class="lb" dy="1.6">CCA</text>
<text x="493.42" y="219.57" transform="rotate(49.48 493.42 219.57)" class="lb" dy="1.6">CCG</text>
<text x="485.74" y="225.75" transform="rotate(54.12 485.74 225.75)" class="lb" dy="1.6">CAU</text>
<text x="477.60" y="231.28" transform="rotate(58.76 477.60 231.28)" class="lb" dy="1.6">CAC</text>
<text x="469.06" y="236.12" transform="rotate(63.39 469.06 236.12)" class="lb" dy="1.6">CAA</text>
<text x="460.15" y="240.23" transform="rotate(68.03 460.15 240.23)" class="lb" dy="1.6">CAG</text>
<text x="450.96" y="243.59" transform="rotate(72.67 450.96 243.59)" class="lb" dy="1.6">CGU</text>
<text x="441.52" y="246.18" transform="rotate(77.31 441.52 246.18)" class="lb" dy="1.6">CGC</text>
<text x="431.92" y="247.98" transform="rotate(81.94 431.92 247.98)" class="lb" dy="1.6">CGA</text>
<text x="422.20" y="248.98" transform="rotate(86.58 422.20 248.98)" class="lb" dy="1.6">CGG</text>
<text x="412.43" y="249.17" transform="rotate(-88.78 412.43 249.17)" class="lb" text-anchor="end" dy="1.6">AUU</text>
<text x="402.68" y="248.56" transform="rotate(-84.14 402.68 248.56)" class="lb" text-anchor="end" dy="1.6">AUC</text>
<text x="393.02" y="247.13" transform="rotate(-79.51 393.02 247.13)" class="lb" text-anchor="end" dy="1.6">AUA</text>
<text x="383.49" y="244.92" transform="rotate(-74.87 383.49 244.92)" class="lb" text-anchor="end" dy="1.6">AUG</text>
<text x="374.18" y="241.92" transform="rotate(-70.23 374.18 241.92)" class="lb" text-anchor="end" dy="1.6">ACU</text>
<text x="365.13" y="238.16" transform="rotate(-65.59 365.13 238.16)" class="lb" text-anchor="end" dy="1.6">ACC</text>
<text x="356.40" y="233.66" transform="rotate(-60.96 356.40 233.66)" class="lb" text-anchor="end" dy="1.6">ACA</text>
<text x="348.06" y="228.46" transform="rotate(-56.32 348.06 228.46)" class="lb" text-anchor="end" dy="1.6">ACG</text>
<text x="340.16" y="222.58" transform="rotate(-51.68 340.16 222.58)" class="lb" text-anchor="end" dy="1.6">AAU</text>
<text x="332.75" y="216.07" transform="rotate(-47.04 332.75 216.07)" class="lb" text-anchor="end" dy="1.6">AAC</text>
<text x="325.88" y="208.97" transform="rotate(-42.41 325.88 208.97)" class="lb" text-anchor="end" dy="1.6">AAA</text>
<text x="319.59" y="201.32" transform="rotate(-37.77 319.59 201.32)" class="lb" text-anchor="end" dy="1.6">AAG</text>
<text x="313.92" y="193.18" transform="rotate(-33.13 313.92 193.18)" class="lb" text-anchor="end" dy="1.6">AGU</text>
<text x="308.92" y="184.59" transform="rotate(-28.49 308.92 184.59)" class="lb" text-anchor="end" dy="1.6">AGC</text>
<text x="304.61" y="175.62" transform="rotate(-23.86 304.61 175.62)" class="lb" text-anchor="end" dy="1.6">AGA</text>
<text x="301.03" y="166.32" transform="rotate(-19.22 301.03 166.32)" class="lb" text-anchor="end" dy="1.6">AGG</text>
<text x="298.19" y="156.75" transform="rotate(-14.58 298.19 156.75)" class="lb" text-anchor="end" dy="1.6">GUU</text>
<text x="296.11" y="146.98" transform="rotate(-9.94 296.11 146.98)" class="lb" text-anchor="end" dy="1.6">GUC</text>
<text x="294.82" y="137.08" transform="rotate(-5.31 294.82 137.08)" class="lb" text-anchor="end" dy="1.6">GUA</text>
<text x="294.31" y="127.09" transform="rotate(-0.67 294.31 127.09)" class="lb" text-anchor="end" dy="1.6">GUG</text>
<text x="294.59" y="117.10" transform="rotate(3.97 294.59 117.10)" class="lb" text-anchor="end" dy="1.6">GCU</text>
<text x="295.66" y="107.16" transform="rotate(8.61 295.66 107.16)" class="lb" text-anchor="end" dy="1.6">GCC</text>
<text x="297.51" y="97.35" transform="rotate(13.24 297.51 97.35)" class="lb" text-anchor="end" dy="1.6">GCA</text>
<text x="300.13" y="87.71" transform="rotate(17.88 300.13 87.71)" class="lb" text-anchor="end" dy="1.6">GCG</text>
<text x="303.50" y="78.33" transform="rotate(22.52 303.50 78.33)" class="lb" text-anchor="end" dy="1.6">GAU</text>
<text x="307.61" y="69.26" transform="rotate(27.16 307.61 69.26)" class="lb" text-anchor="end" dy="1.6">GAC</text>
<text x="312.41" y="60.56" transform="rotate(31.79 312.41 60.56)" class="lb" text-anchor="end" dy="1.6">GAA</text>
<text x="317.89" y="52.28" transform="rotate(36.43 317.89 52.28)" class="lb" text-anchor="end" dy="1.6">GAG</text>
<text x="324.00" y="44.48" transform="rotate(41.07 324.00 44.48)" class="lb" text-anchor="end" dy="1.6">GGU</text>
<text x="330.71" y="37.22" transform="rotate(45.71 330.71 37.22)" class="lb" text-anchor="end" dy="1.6">GGC</text>
<text x="337.97" y="30.53" transform="rotate(50.34 337.97 30.53)" class="lb" text-anchor="end" dy="1.6">GGA</text>
<text x="345.74" y="24.47" transform="rotate(54.98 345.74 24.47)" class="lb" text-anchor="end" dy="1.6">GGG</text>
<text x="449.43" y="69.42" transform="rotate(-57.18 449.43 69.42)" class="nm" dy="1.1">995</text>
<text x="453.73" y="72.52" transform="rotate(-52.54 453.73 72.52)" class="nm" dy="1.1">1266</text>
<text x="457.77" y="75.96" transform="rotate(-47.91 457.77 75.96)" class="nm" dy="1.1">348</text>
<text x="461.53" y="79.73" transform="rotate(-43.27 461.53 79.73)" class="nm" dy="1.1">1040</text>
<text x="464.98" y="83.80" transform="rotate(-38.63 464.98 83.80)" class="nm" dy="1.1">592</text>
<text x="468.09" y="88.14" transform="rotate(-33.99 468.09 88.14)" class="nm" dy="1.1">424</text>
<text x="470.85" y="92.72" transform="rotate(-29.36 470.85 92.72)" class="nm" dy="1.1">805</text>
<text x="473.24" y="97.52" transform="rotate(-24.72 473.24 97.52)" class="nm" dy="1.1">147</text>
<text x="475.25" y="102.50" transform="rotate(-20.08 475.25 102.50)" class="nm" dy="1.1">769</text>
<text x="476.85" y="107.63" transform="rotate(-15.44 476.85 107.63)" class="nm" dy="1.1">861</text>
<text x="478.05" y="112.87" transform="rotate(-10.81 478.05 112.87)" class="nm" dy="1.1">93</text>
<text x="478.82" y="118.20" transform="rotate(-6.17 478.82 118.20)" class="nm" dy="1.1">75</text>
<text x="479.18" y="123.57" transform="rotate(-1.53 479.18 123.57)" class="nm" dy="1.1">366</text>
<text x="479.10" y="128.96" transform="rotate(3.11 479.10 128.96)" class="nm" dy="1.1">348</text>
<text x="478.61" y="134.32" transform="rotate(7.74 478.61 134.32)" class="nm" dy="1.1">120</text>
<text x="477.69" y="139.62" transform="rotate(12.38 477.69 139.62)" class="nm" dy="1.1">592</text>
<text x="476.35" y="144.83" transform="rotate(17.02 476.35 144.83)" class="nm" dy="1.1">1004</text>
<text x="474.61" y="149.91" transform="rotate(21.66 474.61 149.91)" class="nm" dy="1.1">915</text>
<text x="472.47" y="154.83" transform="rotate(26.29 472.47 154.83)" class="nm" dy="1.1">487</text>
<text x="469.96" y="159.56" transform="rotate(30.93 469.96 159.56)" class="nm" dy="1.1">619</text>
<text x="467.07" y="164.06" transform="rotate(35.57 467.07 164.06)" class="nm" dy="1.1">951</text>
<text x="463.84" y="168.32" transform="rotate(40.21 463.84 168.32)" class="nm" dy="1.1">303</text>
<text x="460.29" y="172.28" transform="rotate(44.84 460.29 172.28)" class="nm" dy="1.1">995</text>
<text x="456.43" y="175.95" transform="rotate(49.48 456.43 175.95)" class="nm" dy="1.1">496</text>
<text x="452.30" y="179.28" transform="rotate(54.12 452.30 179.28)" class="nm" dy="1.1">778</text>
<text x="447.91" y="182.25" transform="rotate(58.76 447.91 182.25)" class="nm" dy="1.1">460</text>
<text x="443.31" y="184.86" transform="rotate(63.39 443.31 184.86)" class="nm" dy="1.1">1022</text>
<text x="438.52" y="187.07" transform="rotate(68.03 438.52 187.07)" class="nm" dy="1.1">724</text>
<text x="433.56" y="188.88" transform="rotate(72.67 433.56 188.88)" class="nm" dy="1.1">165</text>
<text x="428.48" y="190.28" transform="rotate(77.31 428.48 190.28)" class="nm" dy="1.1">147</text>
<text x="423.31" y="191.25" transform="rotate(81.94 423.31 191.25)" class="nm" dy="1.1">339</text>
<text x="418.08" y="191.79" transform="rotate(86.58 418.08 191.79)" class="nm" dy="1.1">111</text>
<text x="412.82" y="191.89" transform="rotate(-88.78 412.82 191.89)" class="nm" dy="1.1">1013</text>
<text x="407.57" y="191.56" transform="rotate(-84.14 407.57 191.56)" class="nm" dy="1.1">825</text>
<text x="402.36" y="190.79" transform="rotate(-79.51 402.36 190.79)" class="nm" dy="1.1">646</text>
<text x="397.23" y="189.60" transform="rotate(-74.87 397.23 189.60)" class="nm" dy="1.1">1248</text>
<text x="392.22" y="187.98" transform="rotate(-70.23 392.22 187.98)" class="nm" dy="1.1">610</text>
<text x="387.34" y="185.96" transform="rotate(-65.59 387.34 185.96)" class="nm" dy="1.1">592</text>
<text x="382.64" y="183.54" transform="rotate(-60.96 382.64 183.54)" class="nm" dy="1.1">424</text>
<text x="378.15" y="180.73" transform="rotate(-56.32 378.15 180.73)" class="nm" dy="1.1">165</text>
<text x="373.90" y="177.57" transform="rotate(-51.68 373.90 177.57)" class="nm" dy="1.1">1067</text>
<text x="369.91" y="174.06" transform="rotate(-47.04 369.91 174.06)" class="nm" dy="1.1">969</text>
<text x="366.21" y="170.23" transform="rotate(-42.41 366.21 170.23)" class="nm" dy="1.1">1221</text>
<text x="362.82" y="166.11" transform="rotate(-37.77 362.82 166.11)" class="nm" dy="1.1">1863</text>
<text x="359.77" y="161.73" transform="rotate(-33.13 359.77 161.73)" class="nm" dy="1.1">415</text>
<text x="357.07" y="157.10" transform="rotate(-28.49 357.07 157.10)" class="nm" dy="1.1">646</text>
<text x="354.75" y="152.27" transform="rotate(-23.86 354.75 152.27)" class="nm" dy="1.1">478</text>
<text x="352.82" y="147.26" transform="rotate(-19.22 352.82 147.26)" class="nm" dy="1.1">460</text>
<text x="351.29" y="142.11" transform="rotate(-14.58 351.29 142.11)" class="nm" dy="1.1">1022</text>
<text x="350.18" y="136.84" transform="rotate(-9.94 350.18 136.84)" class="nm" dy="1.1">574</text>
<text x="349.48" y="131.51" transform="rotate(-5.31 349.48 131.51)" class="nm" dy="1.1">375</text>
<text x="349.20" y="126.13" transform="rotate(-0.67 349.20 126.13)" class="nm" dy="1.1">1067</text>
<text x="349.36" y="120.74" transform="rotate(3.97 349.36 120.74)" class="nm" dy="1.1">769</text>
<text x="349.93" y="115.39" transform="rotate(8.61 349.93 115.39)" class="nm" dy="1.1">451</text>
<text x="350.93" y="110.10" transform="rotate(13.24 350.93 110.10)" class="nm" dy="1.1">733</text>
<text x="352.34" y="104.91" transform="rotate(17.88 352.34 104.91)" class="nm" dy="1.1">75</text>
<text x="354.16" y="99.86" transform="rotate(22.52 354.16 99.86)" class="nm" dy="1.1">1556</text>
<text x="356.37" y="94.97" transform="rotate(27.16 356.37 94.97)" class="nm" dy="1.1">1248</text>
<text x="358.95" y="90.28" transform="rotate(31.79 358.95 90.28)" class="nm" dy="1.1">1520</text>
<text x="361.90" y="85.82" transform="rotate(36.43 361.90 85.82)" class="nm" dy="1.1">1992</text>
<text x="365.20" y="81.62" transform="rotate(41.07 365.20 81.62)" class="nm" dy="1.1">724</text>
<text x="368.81" y="77.71" transform="rotate(45.71 368.81 77.71)" class="nm" dy="1.1">505</text>
<text x="372.72" y="74.11" transform="rotate(50.34 372.72 74.11)" class="nm" dy="1.1">987</text>
<text x="376.90" y="70.84" transform="rotate(54.98 376.90 70.84)" class="nm" dy="1.1">469</text>
<rect x="86.8" y="10.0" width="95.70" height="11.60" fill="url(#cba)"/>
<line x1="86.80" y1="21.6" x2="86.80" y2="23.6" stroke="#444" stroke-width="0.6"/>
<text x="86.80" y="29.5" class="cbl" text-anchor="middle">0.2</text>
<line x1="97.43" y1="21.6" x2="97.43" y2="23.6" stroke="#444" stroke-width="0.6"/>
<text x="97.43" y="29.5" class="cbl" text-anchor="middle">0.4</text>
<line x1="108.07" y1="21.6" x2="108.07" y2="23.6" stroke="#444" stroke-width="0.6"/>
<text x="108.07" y="29.5" class="cbl" text-anchor="middle">0.6</text>
<line x1="118.70" y1="21.6" x2="118.70" y2="23.6" stroke="#444" stroke-width="0.6"/>
<text x="118.70" y="29.5" class="cbl" text-anchor="middle">0.8</text>
<line x1="129.33" y1="21.6" x2="129.33" y2="23.6" stroke="#444" stroke-width="0.6"/>
<text x="129.33" y="29.5" class="cbl" text-anchor="middle">1.0</text>
<line x1="139.97" y1="21.6" x2="139.97" y2="23.6" stroke="#444" stroke-width="0.6"/>
<text x="139.97" y="29.5" class="cbl" text-anchor="middle">1.2</text>
<line x1="150.60" y1="21.6" x2="150.60" y2="23.6" stroke="#444" stroke-width="0.6"/>
<text x="150.60" y="29.5" class="cbl" text-anchor="middle">1.4</text>
<line x1="161.23" y1="21.6" x2="161.23" y2="23.6" stroke="#444" stroke-width="0.6"/>
<text x="161.23" y="29.5" class="cbl" text-anchor="middle">1.6</text>
<line x1="171.87" y1="21.6" x2="171.87" y2="23.6" stroke="#444" stroke-width="0.6"/>
<text x="171.87" y="29.5" class="cbl" text-anchor="middle">1.8</text>
<line x1="182.50" y1="21.6" x2="182.50" y2="23.6" stroke="#444" stroke-width="0.6"/>
<text x="182.50" y="29.5" class="cbl" text-anchor="middle">2.0</text>
<rect x="363.7" y="6.8" width="96.00" height="11.60" fill="url(#cbb)"/>
<line x1="363.70" y1="18.4" x2="363.70" y2="20.4" stroke="#444" stroke-width="0.6"/>
<text x="363.70" y="26.299999999999997" class="cbl" text-anchor="middle">0</text>
<line x1="377.41" y1="18.4" x2="377.41" y2="20.4" stroke="#444" stroke-width="0.6"/>
<text x="377.41" y="26.299999999999997" class="cbl" text-anchor="middle">300</text>
<line x1="391.13" y1="18.4" x2="391.13" y2="20.4" stroke="#444" stroke-width="0.6"/>
<text x="391.13" y="26.299999999999997" class="cbl" text-anchor="middle">600</text>
<line x1="404.84" y1="18.4" x2="404.84" y2="20.4" stroke="#444" stroke-width="0.6"/>
<text x="404.84" y="26.299999999999997" class="cbl" text-anchor="middle">900</text>
<line x1="418.56" y1="18.4" x2="418.56" y2="20.4" stroke="#444" stroke-width="0.6"/>
<text x="418.56" y="26.299999999999997" class="cbl" text-anchor="middle">1200</text>
<line x1="432.27" y1="18.4" x2="432.27" y2="20.4" stroke="#444" stroke-width="0.6"/>
<text x="432.27" y="26.299999999999997" class="cbl" text-anchor="middle">1500</text>
<line x1="445.99" y1="18.4" x2="445.99" y2="20.4" stroke="#444" stroke-width="0.6"/>
<text x="445.99" y="26.299999999999997" class="cbl" text-anchor="middle">1800</text>
<line x1="459.70" y1="18.4" x2="459.70" y2="20.4" stroke="#444" stroke-width="0.6"/>
<text x="459.70" y="26.299999999999997" class="cbl" text-anchor="middle">2100</text>
<text x="9" y="18.2" class="pl">A</text>
<text x="284.4" y="18.6" class="pl">B</text>
<text x="112.7" y="70" class="tt" text-anchor="middle" transform="rotate(-31 112.7 68.2)">RSCU</text>
<text x="392" y="67.3" class="tt" text-anchor="middle" transform="rotate(-28 392 65.5)">Number</text>
</svg>
</body></html>
